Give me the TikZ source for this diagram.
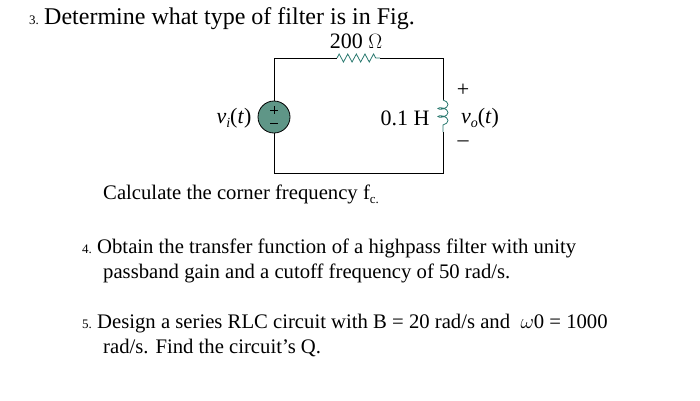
\documentclass[tikz,border=0pt]{standalone}
\usepackage{fontspec}
\setmainfont{Liberation Serif}
\usetikzlibrary{calc,decorations.pathmorphing}
\definecolor{srcfill}{RGB}{95,150,135}
\definecolor{reswire}{RGB}{40,120,110}
\begin{document}
\begin{tikzpicture}[x=1pt,y=-1pt, every node/.style={inner sep=0pt},
  txt/.style={anchor=base west, font=\fontsize{20.7}{24}\selectfont},
  num/.style={anchor=base west, font=\fontsize{13}{14}\selectfont},
  lbl/.style={font=\fontsize{22}{24}\selectfont}]
\useasboundingbox (0,0) rectangle (700,400);
% problem text
\node[num] (n3) at (29,24) {3.};
\node[txt, font=\fontsize{24}{26}\selectfont] (t3) at (44,24) {Determine what type of filter is in Fig.};
\node[txt] (tc) at (103,199) {Calculate the corner frequency f\raisebox{-0.5ex}{\fontsize{13}{14}\selectfont c.}};
\node[num] (n4) at (82,253) {4.};
\node[txt] (t4) at (97,253) {Obtain the transfer function of a highpass filter with unity};
\node[txt] (t4b) at (103,278) {passband gain and a cutoff frequency of 50 rad/s.};
\node[num] (n5) at (82,328) {5.};
\node[txt] (t5) at (97,328) {Design a series RLC circuit with B = 20 rad/s and \ $\omega$0 = 1000};
\node[txt] (t5b) at (103,353) {rad/s. Find the circuit's Q.};
% circuit
\coordinate (tl) at (274,58);
\coordinate (tr) at (443,58);
\coordinate (bl) at (274,173);
\coordinate (br) at (443,173);
\coordinate (r1) at (337,58);
\coordinate (r2) at (380,58);
\coordinate (l1) at (443,100);
\coordinate (l2) at (443,132);
\node[circle, draw, fill=srcfill, minimum size=32pt, line width=0.8pt] (src) at (274,117) {};
\draw[line width=0.7pt] ($(src)+(-4,-7)$) -- ($(src)+(4,-7)$) ($(src)+(0,-11)$) -- ($(src)+(0,-3)$);
\draw[line width=0.7pt] ($(src)+(-4,6)$) -- ($(src)+(4,6)$);
\draw[line width=0.8pt] (src.north) -- (tl) -- (r1);
\draw[reswire, line width=0.8pt, decorate, decoration={zigzag, segment length=8.6pt, amplitude=4pt}] (r1) -- (r2);
\draw[line width=0.8pt] (r2) -- (tr) -- (l1);
\draw[reswire, line width=0.8pt, decorate, decoration={coil, aspect=0.5, segment length=8pt, amplitude=5pt}] (l1) -- (l2);
\draw[line width=0.8pt] (l2) -- (br) -- (bl) -- (src.south);
\node[lbl] (rl) at (356,41) {200 $\Omega$};
\node[lbl] (vi) at (234,118) {\textit{v}\raisebox{-0.4ex}{\fontsize{14}{15}\selectfont\textit{i}}(\textit{t})};
\node[lbl] (ll) at (405,118) {0.1 H};
\node[lbl] (vo) at (480,118) {\textit{v}\raisebox{-0.4ex}{\fontsize{14}{15}\selectfont\textit{o}}(\textit{t})};
\node[lbl] (pl) at (463,90) {+};
\node[lbl] (mi) at (463,144) {\textendash};
\end{tikzpicture}
\end{document}
